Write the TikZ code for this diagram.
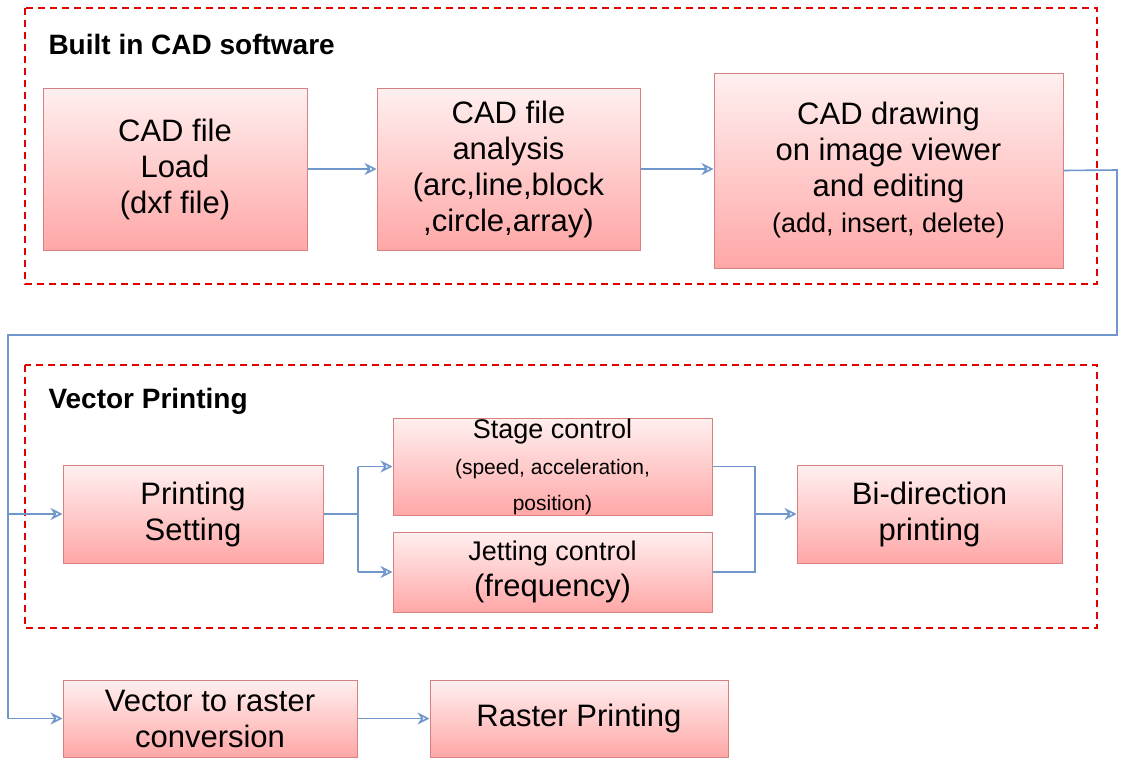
\documentclass[tikz,border=0pt]{standalone}
\usepackage{fontspec}
\setmainfont{Liberation Sans}
\usetikzlibrary{arrows.meta}
\definecolor{bb}{HTML}{D98080}
\definecolor{ln}{HTML}{6F97CB}
\newcommand{\sm}{\fontsize{21}{23}\selectfont}
\newcommand{\md}{\fontsize{27}{30}\selectfont}
\begin{document}
\begin{tikzpicture}[x=1pt,y=-1pt,
 box/.style={draw=bb,line width=1pt,top color=red!6,bottom color=red!35!white!95!pink,align=center,font=\fontsize{31}{36}\selectfont,inner sep=0pt},
 grp/.style={draw=red!90!black,line width=2.5pt,dash pattern=on 7pt off 5pt},
 con/.style={draw=ln,line width=1.6pt},
 arr/.style={con,-{Stealth[length=12pt,width=12pt,open]}},
 ttl/.style={font=\bfseries\fontsize{28}{32}\selectfont,anchor=west}]
\useasboundingbox (0,0) rectangle (1125,779);
\draw[grp] (25,8) rectangle (1097,284);
\draw[grp] (25,365) rectangle (1097,628);
\node[ttl] (t1) at (45,44) {Built in CAD software};
\node[ttl] (t2) at (45,401) {Vector Printing};
\node[box,minimum width=264pt,minimum height=162pt] (a) at (175,169) {CAD file\\Load\\(dxf file)};
\node[box,minimum width=263pt,minimum height=162pt] (b) at (508.5,169) {CAD file\\analysis\\(arc,line,block\\,circle,array)};
\node[box,minimum width=349pt,minimum height=195pt] (c) at (888.5,170.5) {CAD drawing\\on image viewer\\and editing\\\md(add, insert, delete)};
\node[box,minimum width=260pt,minimum height=98pt] (p) at (193,514) {Printing\\Setting};
\node[box,minimum width=319pt,minimum height=97pt] (s) at (552.5,466.5) {\md Stage control\\\sm(speed, acceleration,\\\sm position)};
\node[box,minimum width=319pt,minimum height=80pt] (j) at (552.5,572) {\md Jetting control\\(frequency)};
\node[box,minimum width=265pt,minimum height=98pt] (d) at (929.5,514) {Bi-direction\\printing};
\node[box,minimum width=294pt,minimum height=77pt] (v) at (210,718.5) {Vector to raster\\conversion};
\node[box,minimum width=298pt,minimum height=77pt] (r) at (579,718.5) {Raster Printing};
\coordinate (k1) at (1117,170); \coordinate (k2) at (1117,335);
\coordinate (k3) at (8,335); \coordinate (k4) at (8,718.5);
\coordinate (m) at (358,514); \coordinate (n) at (755,514);
\draw[arr] (a) -- (b);
\draw[arr] (b.east|-a.east) -- (c.west|-a.east);
\draw[con] (c.east) -- (k1) -- (k2) -- (k3) -- (k4);
\draw[arr] (8,514) -- (p.west);
\draw[arr] (k4) -- (v.west);
\draw[arr] (v) -- (r);
\draw[con] (p.east) -- (m);
\draw[arr] (m|-s.west) -- (s.west);
\draw[con] (m|-s.west) -- (m|-j.west);
\draw[arr] (m|-j.west) -- (j.west);
\draw[con] (s.east) -| (n);
\draw[con] (j.east) -| (n);
\draw[arr] (n) -- (d.west);
\end{tikzpicture}
\end{document}
